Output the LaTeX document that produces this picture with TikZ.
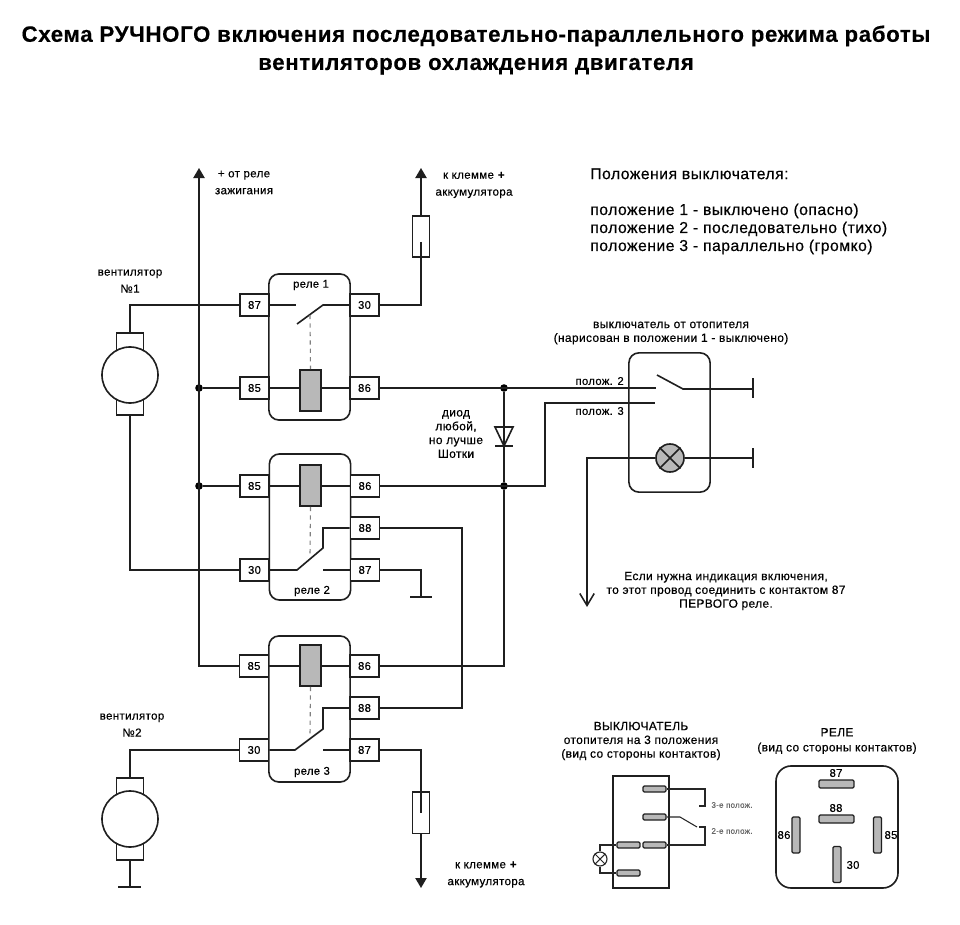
\documentclass[tikz,border=0pt]{standalone}
\usepackage{fontspec}
\setmainfont{Liberation Sans}[LetterSpace=3,FakeBold=0.35]
\usetikzlibrary{arrows.meta}
\tikzset{
	wire/.style={line width=1.15pt,black!88},
	tip/.style={-{Triangle[length=0.25cm,width=0.28cm]}},
	openvee/.style={-{Straight Barb[length=0.3cm,width=0.36cm,line width=1.1pt]}},
	relaybody/.style={draw=black!88,line width=1.15pt,rounded corners=0.25cm,minimum width=2.03cm,minimum height=3.65cm,inner sep=0},
	contact/.style={draw=black!88,line width=1.15pt,fill=white,minimum width=0.73cm,minimum height=0.55cm,inner sep=0,font=\fontsize{8}{10}\selectfont},
	coil/.style={draw=black!88,line width=1.15pt,fill=black!28,minimum width=0.53cm,minimum height=1.03cm,inner sep=0},
	link/.style={gray,dashed,line width=0.8pt},
	junction/.style={circle,fill=black,minimum size=0.19cm,inner sep=0},
	motor/.style={circle,draw=black!88,line width=1.15pt,fill=white,minimum size=1.4cm,inner sep=0},
	motortab/.style={draw=black!88,line width=1.15pt,minimum width=0.68cm,minimum height=2.05cm,inner sep=0},
	fuse/.style={draw=black!88,line width=1.15pt,minimum width=0.43cm,minimum height=1.04cm,inner sep=0},
	label/.style={align=center,inner sep=0,font=\fontsize{8.2}{12}\selectfont},
	tightlabel/.style={align=center,inner sep=0,font=\fontsize{8.5}{9.8}\selectfont},
	pin/.style={draw=black!88,line width=0.9pt,fill=black!28,rounded corners=0.03cm,inner sep=0},
	thinwire/.style={black!85,line width=0.75pt},
	pinname/.style={inner sep=0,font=\fontsize{8}{10}\selectfont},
	tinyname/.style={inner sep=0,text=black!60,font=\fontsize{5.7}{6}\selectfont},
	swpin/.style={pin,minimum width=0.57cm,minimum height=0.15cm},
	widepin/.style={pin,minimum width=0.87cm,minimum height=0.2cm},
	tallpin/.style={pin,minimum width=0.2cm,minimum height=0.9cm},
}
\begin{document}
\begin{tikzpicture}[x=0.025cm,y=-0.025cm]
	\useasboundingbox[fill=white] (0,0) rectangle (960,925);
	%%%%% TITLE %%%%%
	\node[align=center,inner sep=0,font=\fontsize{15.8}{20}\bfseries\selectfont] (title) at (476,50) {Схема РУЧНОГО включения последовательно-параллельного режима работы\\вентиляторов охлаждения двигателя};

	%%%%% RELAY 1 %%%%%
	\node[relaybody] (rel1) at (309.5,347) {};
	\node[pinname] (rel1name) at (311,285) {реле 1};
	\node[contact] (r1k87) at (254.5,305) {87};
	\node[contact] (r1k30) at (364.5,305) {30};
	\node[contact] (r1k85) at (254.5,388) {85};
	\node[contact] (r1k86) at (364.5,388) {86};
	\node[coil] (r1coil) at (310.5,390.5) {};
	\coordinate (r1a) at (296,305);
	\coordinate (r1b) at (323,305);
	\coordinate (r1c) at (297,324);
	\coordinate (r1d) at (310,315);
	\draw[wire] (r1k87.east) -- (r1a);
	\draw[wire] (r1k30.west) -- (r1b) -- (r1c);
	\draw[link] (r1d) -- (r1coil.north);
	\draw[wire] (r1k85.east) -- (r1k85.east -| r1coil.west);
	\draw[wire] (r1k86.west) -- (r1k86.west -| r1coil.east);

	%%%%% RELAY 2 %%%%%
	\node[relaybody] (rel2) at (310,527) {};
	\node[pinname] (rel2name) at (312,591) {реле 2};
	\node[contact] (r2k85) at (254.5,486) {85};
	\node[contact] (r2k86) at (365,486) {86};
	\node[contact] (r2k88) at (365,528) {88};
	\node[contact] (r2k87) at (365,570) {87};
	\node[contact] (r2k30) at (254.5,570) {30};
	\node[coil] (r2coil) at (310.5,485.5) {};
	\coordinate (r2a) at (297,570);
	\coordinate (r2b) at (323,548);
	\coordinate (r2c) at (323,528);
	\coordinate (r2d) at (323,570);
	\coordinate (r2e) at (310,557);
	\draw[wire] (r2k30.east) -- (r2a) -- (r2b) -- (r2c) -- (r2k88.west);
	\draw[wire] (r2d) -- (r2k87.west);
	\draw[link] (r2coil.south) -- (r2e);
	\draw[wire] (r2k85.east) -- (r2k85.east -| r2coil.west);
	\draw[wire] (r2k86.west) -- (r2k86.west -| r2coil.east);

	%%%%% RELAY 3 %%%%%
	\node[relaybody] (rel3) at (309.5,709) {};
	\node[pinname] (rel3name) at (312,772) {реле 3};
	\node[contact] (r3k85) at (254,666) {85};
	\node[contact] (r3k86) at (364.5,666) {86};
	\node[contact] (r3k88) at (364.5,708) {88};
	\node[contact] (r3k87) at (364.5,750) {87};
	\node[contact] (r3k30) at (254,750) {30};
	\node[coil] (r3coil) at (310.5,665.5) {};
	\coordinate (r3a) at (295,750);
	\coordinate (r3b) at (323,729);
	\coordinate (r3c) at (323,708);
	\coordinate (r3d) at (323,750);
	\coordinate (r3e) at (310,737);
	\draw[wire] (r3k30.east) -- (r3a) -- (r3b) -- (r3c) -- (r3k88.west);
	\draw[wire] (r3d) -- (r3k87.west);
	\draw[link] (r3coil.south) -- (r3e);
	\draw[wire] (r3k85.east) -- (r3k85.east -| r3coil.west);
	\draw[wire] (r3k86.west) -- (r3k86.west -| r3coil.east);

	%%%%% MOTORS %%%%%
	\node[motortab] (m1tab) at (130,374) {};
	\node[motor] (m1) at (130,375) {};
	\node[motortab] (m2tab) at (130,819) {};
	\node[motor] (m2) at (130,819) {};
	\coordinate (m2gnd) at (130,887);
	\coordinate (m2gl) at (118,887);
	\coordinate (m2gr) at (141,887);
	\node[label] (m1name) at (130,281) {вентилятор\\№1};
	\node[label] (m2name) at (132,725) {вентилятор\\№2};
	\draw[wire] (r1k87.west) -| (m1tab.north);
	\draw[wire] (m1tab.south) |- (r2k30.west);
	\draw[wire] (r3k30.west) -| (m2tab.north);
	\draw[wire] (m2tab.south) -- (m2gnd);
	\draw[wire] (m2gl) -- (m2gr);

	%%%%% BUS %%%%%
	\coordinate (bustop) at (199,168);
	\node[junction] (j85a) at (199,388) {};
	\node[junction] (j85b) at (199,486) {};
	\draw[wire,tip] (r3k85.west) -| (bustop);
	\draw[wire] (j85a) -- (r1k85.west);
	\draw[wire] (j85b) -- (r2k85.west);
	\node[label] (busname) at (244,182.5) {+ от реле\\зажигания};

	%%%%% UPPER FUSE %%%%%
	\node[fuse] (fusea) at (421,236.5) {};
	\coordinate (fusetop) at (421,168);
	\coordinate (fusein) at (421,242);
	\draw[wire,tip] (fusea.north) -- (fusetop);
	\draw[wire] (fusein) |- (r1k30.east);
	\node[label] (batname) at (474,185) {к клемме \textbf{+}\\аккумулятора};

	%%%%% LOWER FUSE %%%%%
	\node[fuse] (fuseb) at (421,812.5) {};
	\coordinate (fusebin) at (421,813);
	\coordinate (fusebot) at (421,888);
	\draw[wire] (r3k87.east) -| (fusebin);
	\draw[wire,tip] (fuseb.south) -- (fusebot);
	\node[label] (batnameb) at (486,874.5) {к клемме \textbf{+}\\аккумулятора};

	%%%%% MIDDLE WIRES %%%%%
	\coordinate (gnd) at (421,597);
	\coordinate (gndl) at (410,597);
	\coordinate (gndr) at (432,597);
	\coordinate (cross88) at (462,708);
	\draw[wire] (r2k87.east) -| (gnd);
	\draw[wire] (gndl) -- (gndr);
	\draw[wire] (r2k88.east) -| (cross88) -- (r3k88.east);

	\node[junction] (jd1) at (504,388) {};
	\node[junction] (jd2) at (504,486) {};
	\draw[wire] (r3k86.east) -| (jd2);
	\draw[wire] (jd2) -- (jd1);
	\draw[wire] (r2k86.east) -- (jd2);
	\coordinate (dl) at (495,427);
	\coordinate (dr) at (513,427);
	\coordinate (dt) at (504,446);
	\coordinate (dbl) at (495,446);
	\coordinate (dbr) at (513,446);
	\draw[wire] (dl) -- (dr) -- (dt) -- cycle;
	\draw[wire] (dbl) -- (dbr);
	\node[tightlabel] (diodename) at (456,434) {диод\\любой,\\но лучше\\Шотки};

	%%%%% SWITCH %%%%%
	\node[relaybody,minimum width=2.03cm,minimum height=3.48cm] (sw) at (669.5,422.5) {};
	\coordinate (sw2) at (656,388);
	\coordinate (sw3) at (655,403);
	\coordinate (sw3a) at (545,486);
	\coordinate (sw3b) at (545,403);
	\coordinate (swc) at (683,389);
	\coordinate (swd) at (657,375);
	\coordinate (swe) at (753,389);
	\coordinate (swet) at (753,378);
	\coordinate (sweb) at (753,398);
	\node[circle,draw=black!88,line width=1.15pt,fill=black!28,minimum size=0.7cm,inner sep=0] (lamp) at (670,458) {};
	\draw[wire] (lamp.north west) -- (lamp.south east);
	\draw[wire] (lamp.north east) -- (lamp.south west);
	\coordinate (lampr) at (753,458);
	\coordinate (lamprt) at (753,448);
	\coordinate (lamprb) at (753,468);
	\coordinate (lampd) at (587,607);
	\draw[wire] (r1k86.east) -- (sw2);
	\draw[wire] (r2k86.east) -- (sw3a) -- (sw3b) -- (sw3);
	\draw[wire] (swd) -- (swc) -- (swe);
	\draw[wire] (swet) -- (sweb);
	\draw[wire] (lamp.east) -- (lampr);
	\draw[wire] (lamprt) -- (lamprb);
	\draw[wire,openvee] (lamp.west) -| (lampd);
	\node[pinname,anchor=east] (pos2) at (624,381) {полож. 2};
	\node[pinname,anchor=east] (pos3) at (624,411) {полож. 3};
	\node[tightlabel] (swname) at (671,333) {выключатель от отопителя\\(нарисован в положении 1 - выключено)};
	\node[tightlabel] (hint) at (726,591) {Если нужна индикация включения,\\то этот провод соединить с контактом 87\\ПЕРВОГО реле.};

	%%%%% POSITIONS %%%%%
	\node[anchor=north west,align=left,inner sep=0,font=\fontsize{11.2}{12.8}\selectfont] (posns) at (590,168) {Положения выключателя:\\[12.7pt]положение 1 - выключено (опасно)\\положение 2 - последовательно (тихо)\\положение 3 - параллельно (громко)};

	%%%%% SWITCH PINS %%%%%
	\node[tightlabel] (swview) at (641,741) {ВЫКЛЮЧАТЕЛЬ\\отопителя на 3 положения\\(вид со стороны контактов)};
	\node[draw=black!88,line width=1.15pt,minimum width=1.4cm,minimum height=2.8cm,inner sep=0] (swback) at (641,832) {};
	\node[swpin] (sp1) at (654.5,789) {};
	\node[swpin] (sp2) at (654.5,817) {};
	\node[swpin] (sp3) at (654.5,845) {};
	\node[swpin] (sp4) at (628.5,845) {};
	\node[swpin] (sp5) at (628.5,873) {};
	\coordinate (sa) at (705,789);
	\coordinate (sb) at (705,806);
	\coordinate (sc) at (699,806);
	\coordinate (sd) at (680,817);
	\coordinate (se) at (697,827);
	\coordinate (sf) at (699,827);
	\coordinate (sg) at (705,827);
	\coordinate (sh) at (705,845);
	\draw[thinwire] (sp1.east) -- (sa) -- (sb) -- (sc);
	\draw[thinwire] (sp2.east) -- (sd) -- (se);
	\draw[thinwire] (sf) -- (sg) -- (sh) -- (sp3.east);
	\node[circle,draw=black!85,line width=0.8pt,fill=white,minimum size=0.35cm,inner sep=0] (slamp) at (600,859) {};
	\draw[thinwire] (slamp.north west) -- (slamp.south east);
	\draw[thinwire] (slamp.north east) -- (slamp.south west);
	\draw[thinwire] (slamp.north) |- (sp4.west);
	\draw[thinwire] (slamp.south) |- (sp5.west);
	\node[tinyname] (s3name) at (732,805) {3-е полож.};
	\node[tinyname] (s2name) at (732,831) {2-е полож.};

	%%%%% RELAY PINS %%%%%
	\node[tightlabel,font=\fontsize{8.5}{10.7}\selectfont] (relview) at (837,741) {РЕЛЕ\\(вид со стороны контактов)};
	\node[relaybody,rounded corners=0.38cm,minimum width=3.05cm,minimum height=3.05cm] (relpins) at (837,827) {};
	\node[widepin] (p87) at (836.5,784) {};
	\node[widepin] (p88) at (836.5,819) {};
	\node[tallpin] (p86) at (796,835) {};
	\node[tallpin] (p85) at (877.5,835) {};
	\node[tallpin] (p30) at (837,864.5) {};
	\node[pinname] (l87) at (836,773) {87};
	\node[pinname] (l88) at (836,808) {88};
	\node[pinname] (l86) at (784,835) {86};
	\node[pinname] (l85) at (891,835) {85};
	\node[pinname] (l30) at (853,865) {30};
\end{tikzpicture}
\end{document}
